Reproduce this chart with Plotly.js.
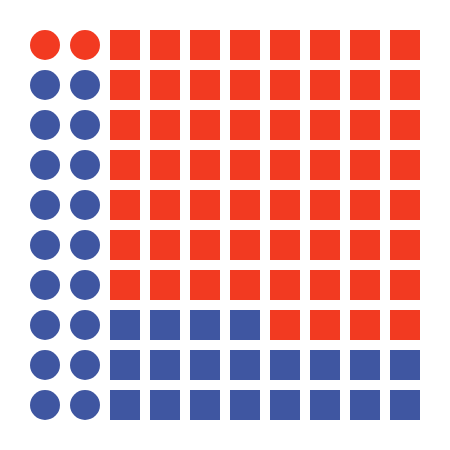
<!DOCTYPE html>
<html>
<head>
<meta charset="utf-8">
<script src="https://cdn.plot.ly/plotly-3.0.1.min.js"></script>
<style>
  html, body { margin: 0; padding: 0; background: #fff; }
  #chart { width: 450px; height: 450px; }
</style>
</head>
<body>
<div id="chart"></div>
<script>
// waffle: two blocks of cells, 10 rows each
const ROWS = 10;
const blockNames = ['circles', 'squares'];
const blockCols = [2, 8];
const blockSymbols = ['circle', 'square'];
const blueCounts = [18, 20];
const redCounts = [2, 60];

const BLUE = '#3F56A1';
const RED = '#F23A21';

const traces = [];
let colOffset = 0;
blockNames.forEach((name, b) => {
    const cols = blockCols[b];
    // cells are filled from the bottom row, left to right
    const cells = [];
    for (let r = ROWS - 1; r >= 0; r--) {
        for (let c = 0; c < cols; c++) {
            cells.push({ x: colOffset + c, y: r });
        }
    }
    const blue = cells.slice(0, blueCounts[b]);
    const red = cells.slice(blueCounts[b], blueCounts[b] + redCounts[b]);
    [[blue, BLUE, 'blue'], [red, RED, 'red']].forEach(([pts, color, label]) => {
        traces.push({
            x: pts.map(p => p.x), y: pts.map(p => p.y),
            type: 'scatter', mode: 'markers',
            name: name + ' ' + label, hoverinfo: 'skip',
            marker: { symbol: blockSymbols[b], size: 30, color: color, line: { width: 0 } }
        });
    });
    colOffset += cols;
});

const layout = {
    width: 450,
    height: 450,
    margin: { l: 0, r: 0, t: 0, b: 0, pad: 0 },
    showlegend: false,
    xaxis: { range: [-1.125, 10.125], visible: false, fixedrange: true },
    yaxis: { range: [10.125, -1.125], visible: false, fixedrange: true },
    plot_bgcolor: 'white', paper_bgcolor: 'white'
};

Plotly.newPlot('chart', traces, layout, { displayModeBar: false, staticPlot: true });
</script>
</body>
</html>
